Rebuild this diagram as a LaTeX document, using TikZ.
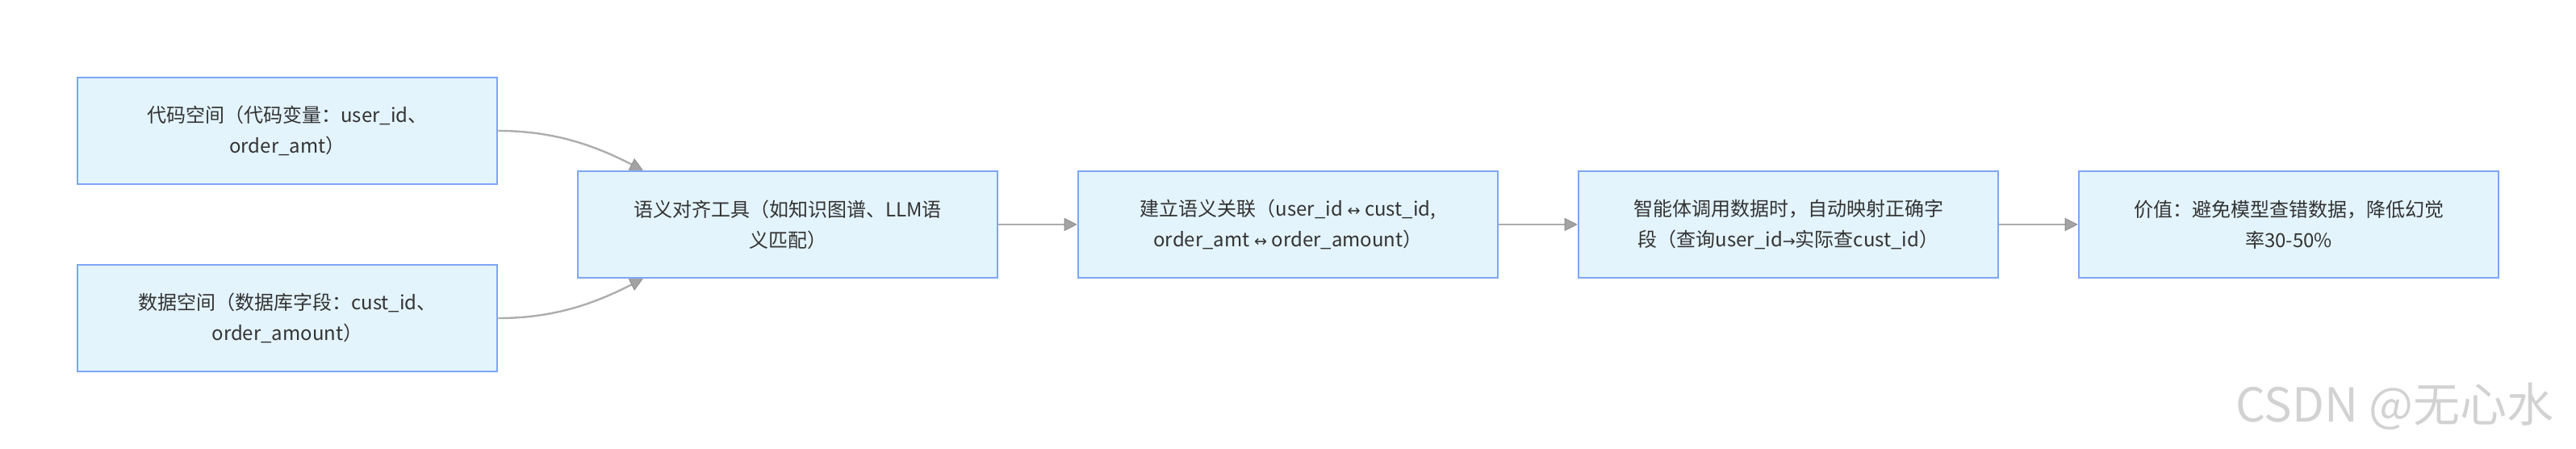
\documentclass[tikz,border=0pt]{standalone}
\usepackage{fontspec}
\setmainfont{Noto Sans CJK SC}
\newfontfamily\symf{DejaVu Sans}[Scale=0.8]
\usetikzlibrary{arrows.meta}
\definecolor{boxfill}{HTML}{E3F4FD}
\definecolor{boxline}{HTML}{7EA6F6}
\definecolor{linkc}{HTML}{ADADAD}
\definecolor{tipc}{HTML}{A3A3A3}
\definecolor{tipline}{HTML}{8C8C8C}
\definecolor{txt}{HTML}{333333}
\definecolor{wmc}{HTML}{D2D2D2}
\begin{document}
\begin{tikzpicture}[x=1pt,y=1pt,
  box/.style={draw=boxline, fill=boxfill, line width=1.3pt, minimum width=260pt,
    minimum height=66pt, inner sep=0pt, align=center, text=txt,
    font=\fontsize{12}{19}\selectfont},
  link/.style={draw=linkc, line width=1.2pt,
    -{Triangle[length=8pt,width=8pt,color=tipline,fill=tipc,line width=0.4pt]}}]
\useasboundingbox (0,0) rectangle (1596,278);
\node[box] (a) at (178,197) {代码空间（代码变量：user\_id、\\order\_amt）};
\node[box] (b) at (178,81) {数据空间（数据库字段：cust\_id、\\order\_amount）};
\node[box] (c) at (488,139) {语义对齐工具（如知识图谱、LLM语\\义匹配）};
\node[box] (d) at (798,139) {建立语义关联（user\_id {\symf ↔} cust\_id,\\order\_amt {\symf ↔} order\_amount）};
\node[box] (e) at (1108,139) {智能体调用数据时，自动映射正确字\\段（查询user\_id{\symf →}实际查cust\_id）};
\node[box] (f) at (1418,139) {价值：避免模型查错数据，降低幻觉\\率30-50\%};
\coordinate (cin1) at ([xshift=41pt]c.north west);
\coordinate (cin2) at ([xshift=41pt]c.south west);
\draw[link] (a.east) .. controls (345,197) and (370,187) .. (cin1);
\draw[link] (b.east) .. controls (345,81) and (370,91) .. (cin2);
\draw[link] (c.east) -- (d.west);
\draw[link] (d.east) -- (e.west);
\draw[link] (e.east) -- (f.west);
\node[anchor=base west, inner sep=0pt, text=wmc, font=\fontsize{29}{29}\selectfont] (wm) at (1385,16.5) {CSDN @无心水};
\end{tikzpicture}
\end{document}
